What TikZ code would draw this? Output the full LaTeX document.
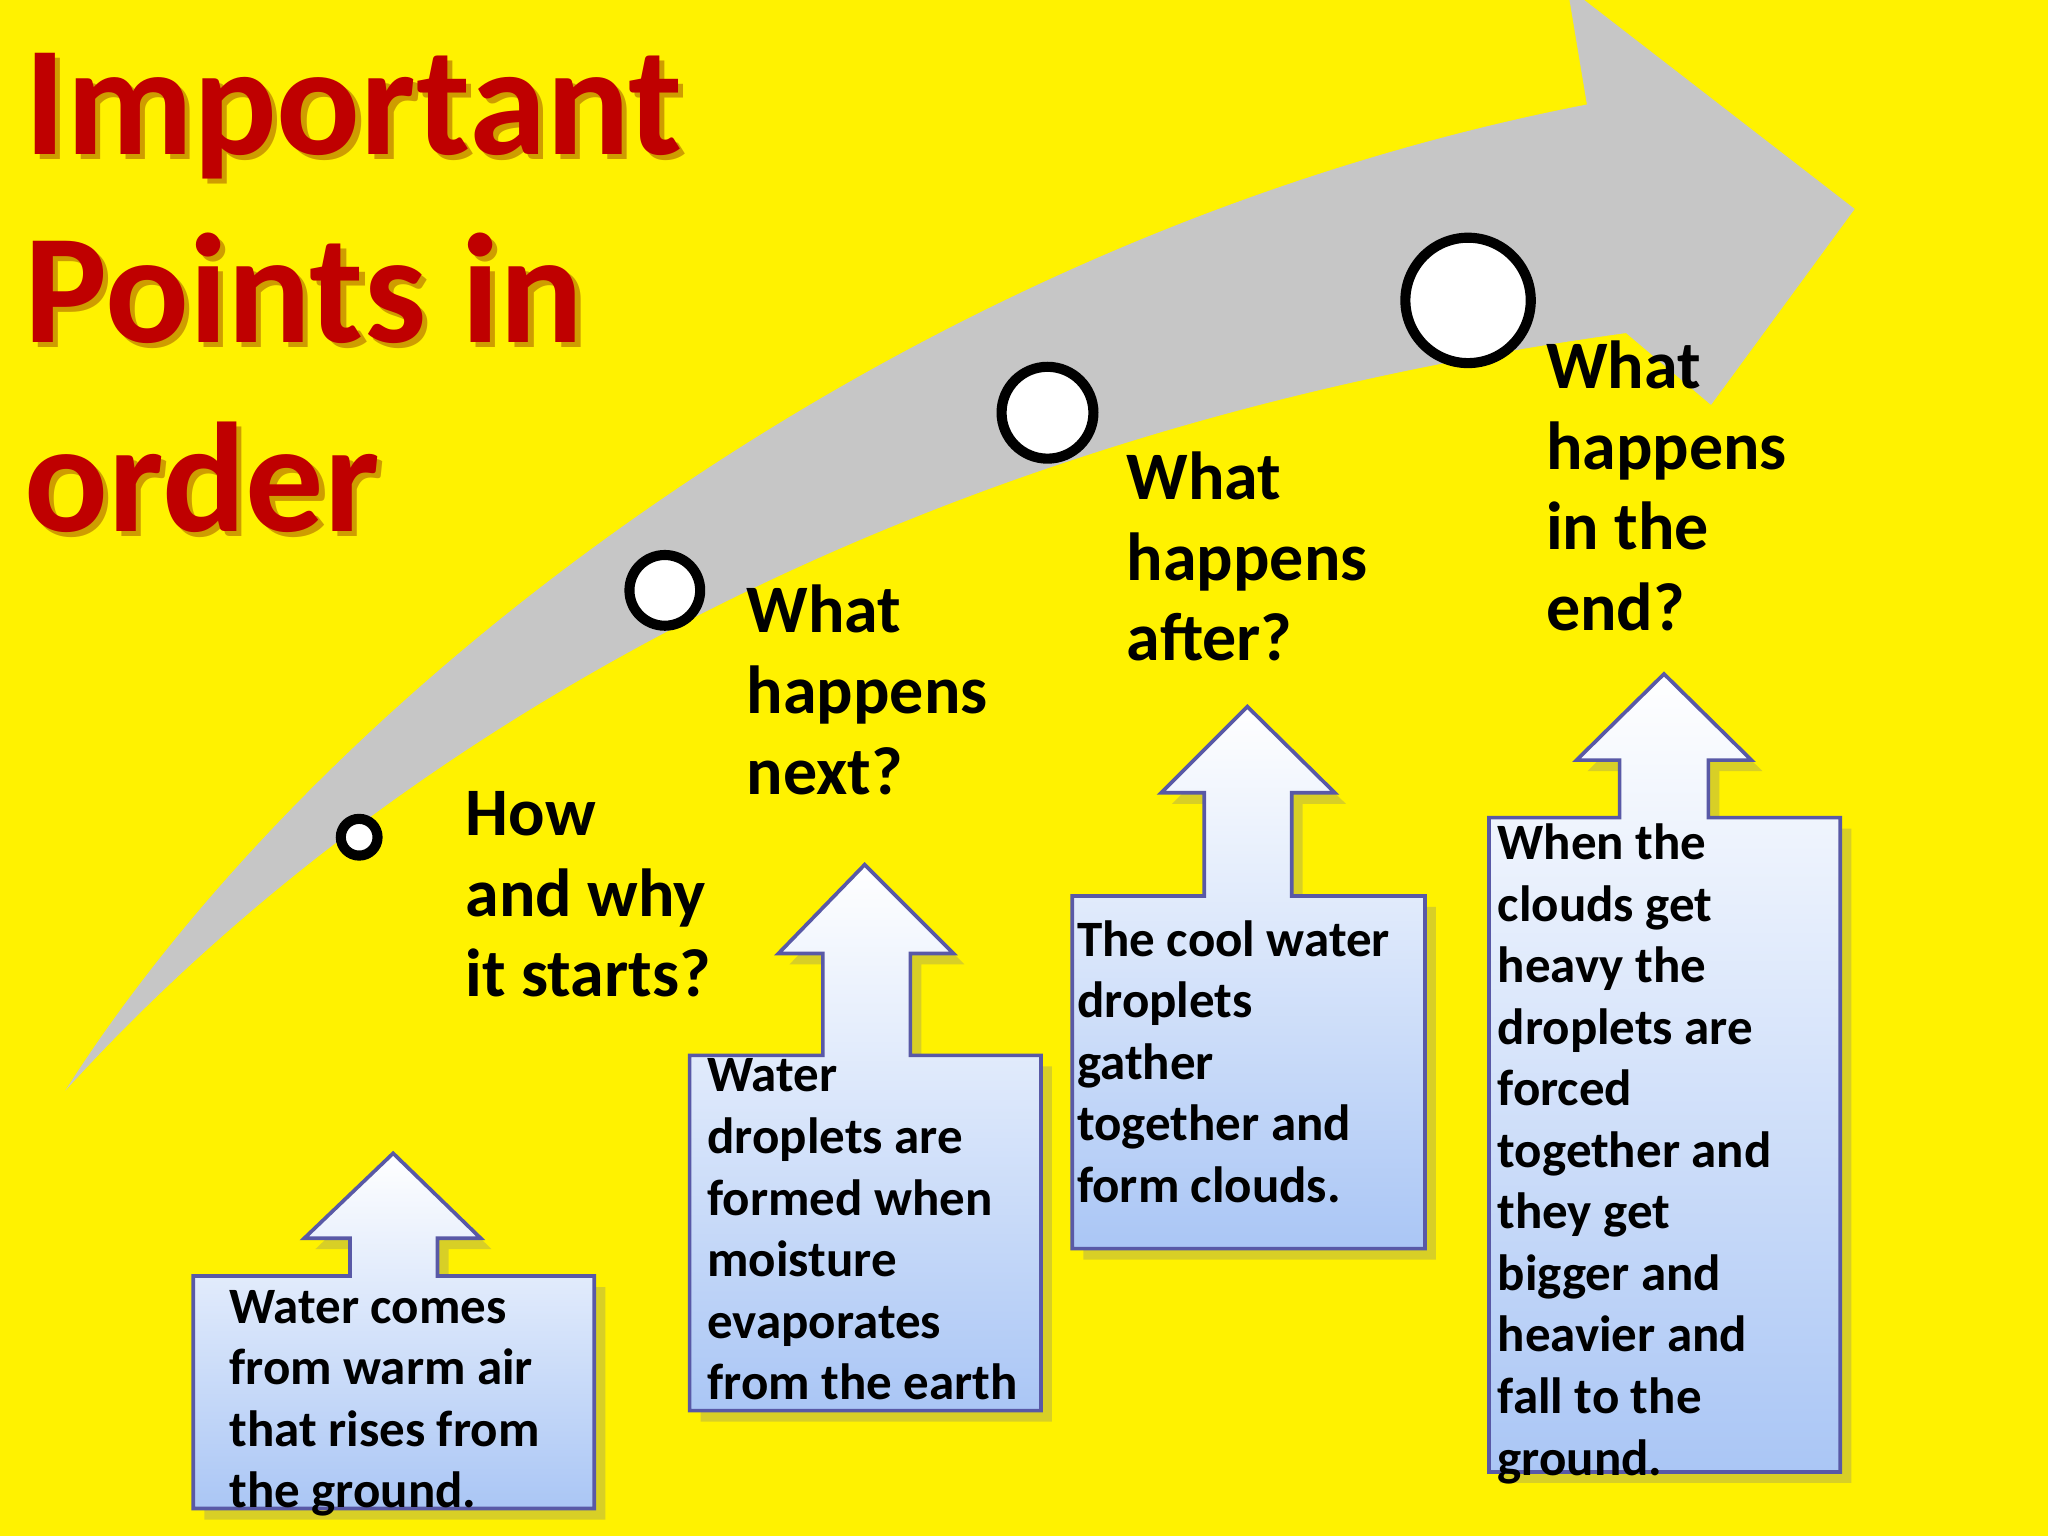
\documentclass[tikz,border=0pt]{standalone}
\usepackage{fontspec}
\setmainfont{Carlito}
\usetikzlibrary{shadows}
\definecolor{boxblue}{RGB}{170,198,245}
\begin{document}
\begin{tikzpicture}[x=0.01cm,y=-0.01cm,
  q/.style={anchor=north west,align=left,font=\bfseries\fontsize{14.8}{17.6}\selectfont,inner sep=0pt},
  bt/.style={anchor=north west,align=left,font=\bfseries\fontsize{11.1}{13.4}\selectfont,inner sep=0pt},
  ab/.style={draw=gray!70!blue,line width=0.8pt,top color=white,bottom color=boxblue,drop shadow={opacity=0.3}},
  dot/.style={circle,draw=black,line width=2.2pt,fill=white,inner sep=0pt}]
\fill[yellow] (0,0) rectangle (1568,1176);
\useasboundingbox (0,0) rectangle (1568,1176);
% big arrow
\fill[gray!45] (50,835) .. controls (250,520) and (700,180) .. (1215,80)
  -- (1200,-10) -- (1420,160) -- (1310,310) -- (1245,255)
  .. controls (700,330) and (300,560) .. (50,835) -- cycle;
% title
\node[anchor=north west,align=left,text=red!45!black,opacity=0.35,font=\bfseries\fontsize{34}{41}\selectfont,inner sep=0pt] at (22,44) {Important\\Points in\\order};
\node[anchor=north west,align=left,text=red!75!black,font=\bfseries\fontsize{34}{41}\selectfont,inner sep=0pt] (title) at (18,40) {Important\\Points in\\order};
% dots
\node[dot,minimum size=8pt] (d1) at (275,641) {};
\node[dot,minimum size=15.4pt] (d2) at (509,452) {};
\node[dot,minimum size=20pt] (d3) at (802,316) {};
\node[dot,minimum size=27.3pt] (d4) at (1124,230) {};
% questions
\node[q] (q1) at (356,605) {How\\and why\\it starts?};
\node[q] (q2) at (571,447) {What\\happens\\next?};
\node[q] (q3) at (862,345) {What\\happens\\after?};
\node[q] (q4) at (1183,260) {What\\happens\\in the\\end?};
% arrow boxes
\path[ab] (148,977) -- (268,977) -- (268,948) -- (233,948) -- (301,883) -- (368,948) -- (335,948) -- (335,977) -- (455,977) -- (455,1155) -- (148,1155) -- cycle;
\path[ab] (528,808) -- (630,808) -- (630,730) -- (596,730) -- (662,662) -- (730,730) -- (697,730) -- (697,808) -- (797,808) -- (797,1080) -- (528,1080) -- cycle;
\path[ab] (821,686) -- (922,686) -- (922,607) -- (889,607) -- (955,541) -- (1022,607) -- (989,607) -- (989,686) -- (1091,686) -- (1091,956) -- (821,956) -- cycle;
\path[ab] (1140,626) -- (1240,626) -- (1240,582) -- (1207,582) -- (1274,516) -- (1341,582) -- (1308,582) -- (1308,626) -- (1409,626) -- (1409,1127) -- (1140,1127) -- cycle;
\node[bt] (b1) at (175,987) {Water comes\\from warm air\\that rises from\\the ground.};
\node[bt] (b2) at (541,810) {Water\\droplets are\\formed when\\moisture\\evaporates\\from the earth};
\node[bt] (b3) at (824,704) {The cool water\\droplets\\gather\\together and\\form clouds.};
\node[bt] (b4) at (1146,630) {When the\\clouds get\\heavy the\\droplets are\\forced\\together and\\they get\\bigger and\\heavier and\\fall to the\\ground.};
\end{tikzpicture}
\end{document}
